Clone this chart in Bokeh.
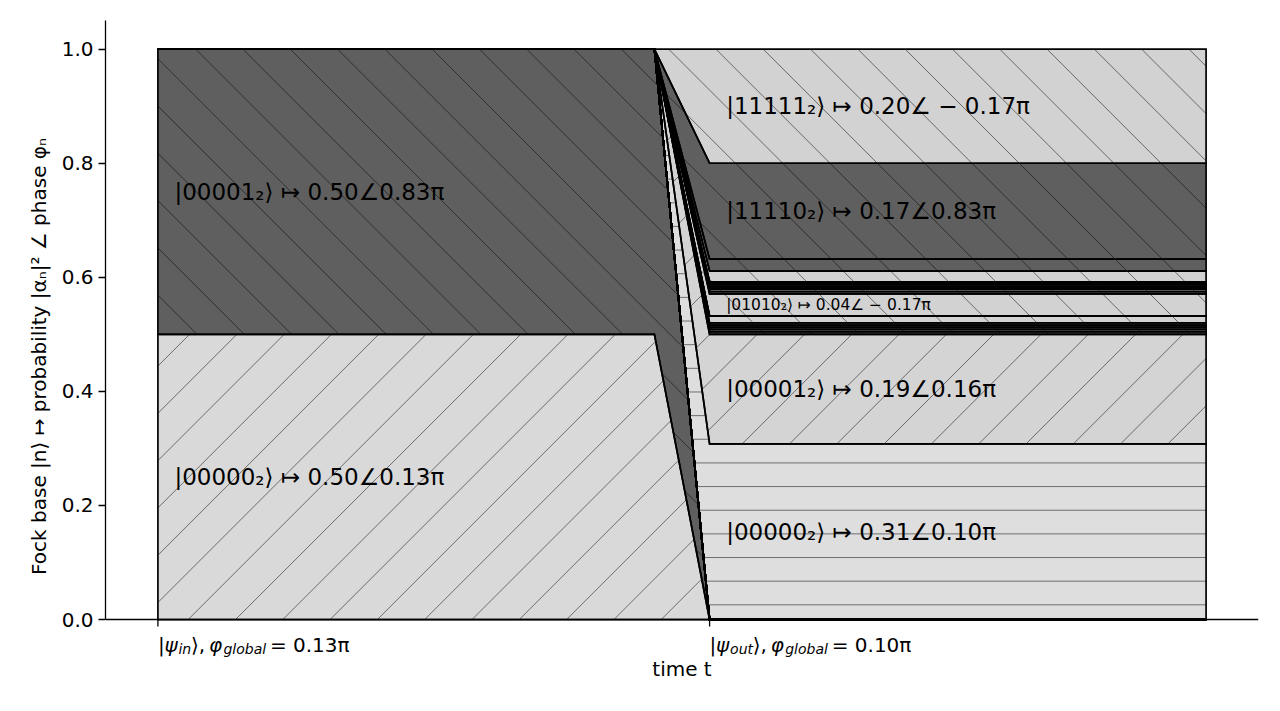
import math
import numpy as np
from bokeh.plotting import figure
from bokeh.models import Range1d, FixedTicker, PrintfTickFormatter, Label, ColumnDataSource
from bokeh.core.properties import value, field
from bokeh.embed import file_html
from bokeh.resources import INLINE

# ---------------- data ----------------
time_points = [0.0, 0.9, 1.0, 1.9]          # input plateau, transition, output plateau
n_states = 32
state_names = [format(n, "05b") for n in range(n_states)]

in_prob = [0.50, 0.50] + [0.0] * 30
in_phase = [0.13, 0.83] + [0.0] * 30        # in units of pi

out_prob = [0.308, 0.192, 0.0046, 0.0040, 0.0040, 0.0035, 0.0040, 0.0117,
            0.0, 0.0, 0.039, 0.0042, 0.0, 0.0042, 0.0, 0.0,
            0.0, 0.0042, 0.0, 0.0, 0.0, 0.0042, 0.0, 0.0,
            0.0, 0.0042, 0.0, 0.0, 0.019, 0.021, 0.168, 0.200]
out_phase = [0.10, 0.16, 0.83, -0.17, 0.83, -0.17, 0.16, -0.17,
             0.0, 0.0, -0.17, 0.83, 0.0, -0.17, 0.0, 0.0,
             0.0, 0.83, 0.0, 0.0, 0.0, -0.17, 0.0, 0.0,
             0.0, 0.83, 0.0, 0.0, -0.17, 0.83, 0.83, -0.17]

global_phase_in = 0.13
global_phase_out = 0.10

y_ticks = [0.0, 0.2, 0.4, 0.6, 0.8, 1.0]
x_ticks = [0.0, 1.0]
x_label = "time t"
y_label = "Fock base |n⟩ ↦ probability |αₙ|² ∠ phase φₙ"

# ---------------- layout ----------------
X0, X1 = -0.095, 1.995
Y_TOP = 1.05
FRAME_W = 1153
PX_PER_Y = 570.5
FRAME_H = 672
Y0 = Y_TOP - FRAME_H / PX_PER_Y
sx = FRAME_W / (X1 - X0)
sy = PX_PER_Y

FONT = "DejaVu Sans"


def gray(ph):
    ph = ((ph + 1.0) % 2.0) - 1.0
    g = int(round(240 - 175 * abs(ph)))
    g = max(0, min(255, g))
    return "#%02x%02x%02x" % (g, g, g)


def hatch_kind(ph):
    return int(round(ph * 4)) % 4   # 0 '-', 1 '/', 2 '|', 3 '\'


HATCH = {0: (0.0, 1.0, 23.65, 14.7),
         1: (1.0, -1.0, 47.3, 30.3),
         2: (1.0, 0.0, 23.65, 0.0),
         3: (1.0, 1.0, 47.3, 40.5)}


def hatch_segments(xs, ys, kind):
    P = np.column_stack([np.asarray(xs) * sx, np.asarray(ys) * sy])
    a, b, d, off = HATCH[kind]
    g = P[:, 0] * a + P[:, 1] * b
    kmin = math.ceil((g.min() - off) / d)
    kmax = math.floor((g.max() - off) / d)
    direction = np.array([-b, a])
    m = len(P)
    out_x, out_y = [], []
    for k in range(kmin, kmax + 1):
        c = off + k * d
        pts = []
        for i in range(m):
            j = (i + 1) % m
            gi, gj = g[i], g[j]
            if (gi < c) != (gj < c):
                t = (c - gi) / (gj - gi)
                pts.append(P[i] + t * (P[j] - P[i]))
        pts.sort(key=lambda q: float(q @ direction))
        for s in range(0, len(pts) - 1, 2):
            q1, q2 = pts[s], pts[s + 1]
            if np.hypot(*(q2 - q1)) < 0.5:
                continue
            out_x.append([q1[0] / sx, q2[0] / sx])
            out_y.append([q1[1] / sy, q2[1] / sy])
    return out_x, out_y


# stack: all input states, then all output states
x = np.array(time_points)
in_mask = np.array([1.0, 1.0, 0.0, 0.0])
out_mask = 1.0 - in_mask
series = []
for n in range(n_states):
    series.append(("in", n, in_prob[n] * in_mask, in_phase[n], in_prob[n]))
for n in range(n_states):
    series.append(("out", n, out_prob[n] * out_mask, out_phase[n], out_prob[n]))

base = np.zeros(4)
poly_xs, poly_ys = [], []
fill_xs, fill_ys, fill_cols = [], [], []
hx, hy = [], []
lab_x, lab_y, lab_t, lab_s = [], [], [], []
for kind, n, vals, ph, prob in series:
    lo = base.copy()
    hi = base + vals
    base = hi
    pxs = list(x) + list(x[::-1])
    pys = list(hi) + list(lo[::-1])
    poly_xs.append(pxs)
    poly_ys.append(pys)
    if prob > 0:
        fill_xs.append(pxs)
        fill_ys.append(pys)
        fill_cols.append(gray(ph))
        sx_, sy_ = hatch_segments(pxs, pys, hatch_kind(ph))
        hx += sx_
        hy += sy_
    if prob >= 0.03:
        idx = 0 if kind == "in" else 2
        ymid = (lo[idx] + hi[idx]) / 2
        ph_txt = ("%.2fπ" % ph) if ph >= 0 else (" − %.2fπ" % abs(ph))
        lab_t.append("|%s₂⟩ ↦ %.2f∠%s" % (state_names[n], prob, ph_txt))
        lab_x.append(x[idx] + 0.03)
        lab_y.append(ymid)
        lab_s.append("23px" if prob >= 0.1 else "15.5px")

# ---------------- figure ----------------
p = figure(frame_width=FRAME_W, frame_height=FRAME_H,
           x_range=Range1d(X0, X1), y_range=Range1d(Y0, Y_TOP),
           output_backend="svg", toolbar_location=None,
           min_border_left=105, min_border_right=14, min_border_top=20, min_border_bottom=0)
p.outline_line_color = None
p.grid.visible = False
p.background_fill_color = "white"

p.patches(fill_xs, fill_ys, fill_color=fill_cols, line_color=None)
p.multi_line(hx, hy, line_color="black", line_alpha=0.5, line_width=1.0)
p.patches(poly_xs, poly_ys, fill_color=None, line_color="black", line_width=1.7, line_join="miter")

src = ColumnDataSource(dict(x=lab_x, y=lab_y, text=lab_t, size=lab_s))
p.text(x="x", y="y", text="text", source=src, text_font=value(FONT), text_font_size=field("size"),
       text_align="left", text_baseline="middle", text_color="black")

# axes
for ax in (p.xaxis[0], p.yaxis[0]):
    ax.axis_line_width = 1.3
    ax.axis_line_color = "black"
    ax.major_tick_line_width = 1.3
    ax.major_tick_line_color = "black"
    ax.major_tick_out = 7
    ax.major_tick_in = 0
    ax.minor_tick_out = 0
    ax.minor_tick_in = 0
    ax.major_label_text_font = FONT
    ax.major_label_text_font_size = "20px"
    ax.major_label_text_color = "black"

p.yaxis.ticker = FixedTicker(ticks=y_ticks)
p.yaxis.formatter = PrintfTickFormatter(format="%.1f")
p.yaxis.bounds = (0.0, Y_TOP)
p.yaxis.major_label_standoff = 5
p.yaxis.axis_label = y_label
p.yaxis.axis_label_text_font = FONT
p.yaxis.axis_label_text_font_size = "20px"
p.yaxis.axis_label_text_font_style = "normal"
p.yaxis.axis_label_text_color = "black"
p.yaxis.axis_label_standoff = 8

p.xaxis.ticker = FixedTicker(ticks=x_ticks)
p.xaxis.fixed_location = 0.0
p.xaxis.major_label_overrides = {0: "", 1: ""}
p.xaxis.major_label_text_font_size = "1px"
p.xaxis.major_tick_out = 0
p.xaxis.major_label_standoff = 0

# x ticks drawn at y = 0 (below the spine)
p.segment(x0=x_ticks, y0=[0.0] * len(x_ticks), x1=x_ticks, y1=[-7.0 / sy] * len(x_ticks),
          line_color="black", line_width=1.3)

# x tick labels (with subscripts) and x axis label
y_main = -25.0 / sy
y_sub = -29.5 / sy


def tick_label(x0, sub, gphase):
    extra = 10.1 if len(sub) == 3 else 0.0
    pieces = [("|", "20px", "normal", 0.0, y_main),
              ("ψ", "20px", "italic", 6.5, y_main),
              (sub, "14px", "italic", 20.5, y_sub),
              ("⟩,", "20px", "normal", 33.0 + extra, y_main),
              ("φ", "20px", "italic", 51.0 + extra, y_main),
              ("global", "14px", "italic", 65.5 + extra, y_sub),
              ("= %.2fπ" % gphase, "20px", "normal", 112.0 + extra, y_main)]
    for txt, size, style, dx, yy in pieces:
        p.add_layout(Label(x=x0, y=yy, x_offset=dx, text=txt, text_font=FONT,
                           text_font_size=size, text_font_style=style,
                           text_align="left", text_baseline="alphabetic", text_color="black"))


tick_label(x_ticks[0], "in", global_phase_in)
tick_label(x_ticks[1], "out", global_phase_out)

p.add_layout(Label(x=(X0 + X1) / 2, y=-49.0 / sy, text=x_label, text_font=FONT,
                   text_font_size="20px", text_align="center", text_baseline="middle",
                   text_color="black"))

open("out.html", "w").write(file_html(p, INLINE))
